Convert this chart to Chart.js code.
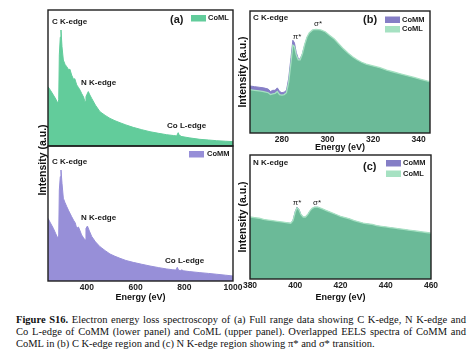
<!DOCTYPE html>
<html><head><meta charset="utf-8">
<script src="https://cdn.jsdelivr.net/npm/chart.js@4.4.1/dist/chart.umd.min.js"></script>
<style>
html,body{margin:0;padding:0;background:#fff;width:474px;height:355px;overflow:hidden;position:relative;}
canvas{position:absolute;}
#ylab{position:absolute;left:-18px;top:154px;width:120px;height:12px;line-height:12px;text-align:center;transform:rotate(-90deg);font:bold 10.5px "Liberation Sans",Arial,sans-serif;color:#111;}
#cap{position:absolute;left:16px;top:314px;width:450px;font:10.5px "Liberation Serif","Times New Roman",serif;color:#111;line-height:12px;}
#cap .j{text-align:justify;text-align-last:justify;white-space:nowrap;}
#cap .j span{letter-spacing:0}
</style>
</head><body>
<canvas id="cA1" width="240" height="150" style="left:0;top:0"></canvas>
<canvas id="cA2" width="250" height="165" style="left:0;top:140px"></canvas>
<canvas id="cB" width="248" height="155" style="left:226px;top:0"></canvas>
<canvas id="cC" width="248" height="155" style="left:226px;top:150px"></canvas>
<div id="ylab">Intensity (a.u.)</div>
<div id="cap">
<div class="j" id="l1"><b>Figure S16.</b> Electron energy loss spectroscopy of (a) Full range data showing C K-edge, N K-edge and</div>
<div class="j" id="l2">Co L-edge of CoMM (lower panel) and CoML (upper panel). Overlapped EELS spectra of CoMM and</div>
<div>CoML in (b) C K-edge region and (c) N K-edge region showing π* and σ* transition.</div>
</div>
<script>
// ---- Panel (a) full range ----
const energyCoML_a = [240,250,262,272,280, 284,286.5,290.5,293.4,297.5, 303,310,317,325,330, 337,345,350,358,365, 372,378,386,392,396, 400,405.6,412,419.5,435, 453.6,475,494.7,515,535.8, 560,590,625,659,695, 727.6,755,768.7,772,775, 779,782,820,864,900, 933,970,1000];
const intensityCoML_a = [0.436,0.41,0.375,0.345,0.314, 0.34,0.67,0.80,0.853,0.73, 0.632,0.60,0.583,0.56,0.565, 0.522,0.49,0.495,0.449,0.43, 0.41,0.387,0.36,0.326,0.363, 0.38,0.40,0.375,0.35,0.30, 0.252,0.225,0.203,0.186,0.171, 0.155,0.137,0.12,0.105,0.093, 0.083,0.077,0.074,0.088,0.098, 0.08,0.072,0.06,0.049,0.044, 0.039,0.035,0.032];
const energyCoMM_a = [240,250,262,272,280, 284,286.5,290.5,293.4,297.5, 303,310,317,325,337, 345,352,358,365,372, 378,386,392,396,402, 410,419.5,435,453.6,475, 494.7,515,535.8,560,590, 625,659,695,727.6,750, 766,771,777,785,790, 795,820,864,900,933, 970,1000];
const intensityCoMM_a = [0.464,0.43,0.39,0.35,0.316, 0.34,0.674,0.773,0.822,0.724, 0.613,0.58,0.551,0.52,0.477, 0.45,0.43,0.39,0.40,0.37, 0.341,0.32,0.304,0.39,0.407, 0.37,0.33,0.29,0.254,0.225, 0.2,0.183,0.168,0.152,0.138, 0.124,0.111,0.099,0.089,0.084, 0.081,0.101,0.079,0.078,0.083, 0.076,0.07,0.062,0.056,0.05, 0.043,0.037];
const ticksA = [400,600,800,1000];

// ---- Panel (b) C K-edge ----
const energyB = [266,268,270,272,274, 275,276,277,278,279, 280,281,282,283,284, 284.8,285.5,286.3,287.2,288, 289,290,291,292,293.5, 295,297,299,301,303, 305,307,309,311,313, 315,317,320,323,326, 329,332,335,338,341, 344,345];
const coMM_B = [0.385,0.38,0.375,0.37,0.36, 0.34,0.35,0.35,0.37,0.34, 0.33,0.335,0.35,0.45,0.62, 0.76,0.74,0.66,0.61,0.605, 0.65,0.72,0.78,0.81,0.835, 0.84,0.835,0.82,0.79,0.76, 0.72,0.68,0.645,0.615,0.59, 0.57,0.555,0.54,0.525,0.505, 0.49,0.475,0.46,0.445,0.43, 0.415,0.41];
const coML_B = [0.355,0.35,0.345,0.34,0.33, 0.315,0.32,0.325,0.34,0.315, 0.31,0.315,0.33,0.42,0.58, 0.72,0.71,0.64,0.60,0.60, 0.65,0.725,0.785,0.82,0.845, 0.85,0.845,0.83,0.80,0.77, 0.73,0.69,0.655,0.625,0.60, 0.58,0.565,0.55,0.535,0.515, 0.50,0.485,0.47,0.455,0.44, 0.425,0.42];
const ticksB = [280,300,320,340];

// ---- Panel (c) N K-edge ----
const energyC = [380,382,384,386,388, 390,392,394,396,398, 399,400,400.8,401.6,402.5, 403.5,404.5,405.5,406.5,407.5, 408.5,410,412,414,416, 418,420,422,424,426, 428,430,432,434,436, 438,440,442,444,446, 448,450,452,454,456, 458,460];
const coML_C = [0.50,0.495,0.49,0.48,0.475, 0.47,0.465,0.46,0.455,0.45, 0.47,0.54,0.575,0.56,0.52, 0.50,0.50,0.52,0.55,0.57, 0.58,0.58,0.565,0.55,0.535, 0.52,0.505,0.495,0.485,0.47, 0.46,0.45,0.445,0.44,0.43, 0.425,0.42,0.415,0.41,0.405, 0.40,0.395,0.39,0.385,0.38, 0.375,0.37];
const coMM_C = [0.48,0.477,0.473,0.468,0.465, 0.462,0.458,0.455,0.452,0.448, 0.472,0.545,0.58,0.562,0.52, 0.498,0.498,0.518,0.548,0.568, 0.578,0.578,0.562,0.548,0.532, 0.518,0.502,0.492,0.482,0.468, 0.458,0.448,0.443,0.437,0.428, 0.422,0.417,0.412,0.407,0.402, 0.397,0.392,0.387,0.382,0.377, 0.372,0.367];
const ticksC = [380,400,420,440,460];

const FAM = '"Liberation Sans", Arial, sans-serif';
const pts = (xs, ys) => xs.map((x, i) => ({x, y: ys[i]}));

// justify caption lines by word spacing (keeps each line on one row)
['l1','l2'].forEach(id => {
  const el = document.getElementById(id);
  el.style.textAlignLast = 'left';
  const w = el.scrollWidth;
  const r = document.createRange(); r.selectNodeContents(el);
  const natural = r.getBoundingClientRect().width;
  const gaps = (el.textContent.match(/ /g) || []).length;
  if (gaps && natural < 450) el.style.wordSpacing = ((450 - natural) / gaps) + 'px';
  else if (natural > 450) el.style.letterSpacing = ((450 - natural) / el.textContent.length) + 'px';
  el.style.textAlign = 'left';
});

const notesPlugin = {
  id: 'notes',
  afterDraw(chart, args, opts) {
    const ctx = chart.ctx, ca = chart.chartArea;
    ctx.save();
    ctx.lineWidth = 1.4; ctx.strokeStyle = '#1e1e1e';
    ctx.strokeRect(ca.left, ca.top, ca.right - ca.left, ca.bottom - ca.top);
    const ox = opts.ox || 0, oy = opts.oy || 0;
    (opts.items || []).forEach(it => {
      if (it.box) { ctx.fillStyle = it.box; ctx.fillRect(it.x - ox, it.y - oy - 3, 15, 6.5); return; }
      ctx.font = it.font || ('bold 8px ' + FAM);
      ctx.fillStyle = '#1a1a1a'; ctx.textAlign = it.align || 'left'; ctx.textBaseline = 'middle';
      ctx.fillText(it.t, it.x - ox, it.y - oy);
    });
    ctx.restore();
  }
};

function xAxis(min, max, ticks, show, h) {
  return {
    type: 'linear', min, max, display: show,
    afterBuildTicks: s => { s.ticks = ticks.map(v => ({value: v})); },
    afterFit: s => { s.height = h; s.paddingLeft = 0; s.paddingRight = 0; },
    grid: {display: false, drawTicks: false}, border: {display: false},
    ticks: {font: {family: FAM, size: 8.5, weight: 'bold'}, color: '#222', padding: 2, maxRotation: 0, autoSkip: false, callback: v => String(v)},
    title: {display: true, text: 'Energy (eV)', font: {family: FAM, size: 9, weight: 'bold'}, color: '#111', padding: {top: 0, bottom: 2}}
  };
}
function yAxis(show) {
  return {
    type: 'linear', min: 0, max: 1, display: show,
    ticks: {display: false}, grid: {display: false, drawTicks: false}, border: {display: false},
    afterFit: s => { s.width = 24; },
    title: {display: show, text: 'Intensity (a.u.)', font: {family: FAM, size: 10.5, weight: 'bold'}, color: '#111', padding: {top: 11, bottom: 0}}
  };
}
function ds(label, data, fill, line, bw) {
  return {label, data, backgroundColor: fill, borderColor: line, borderWidth: bw, fill: 'origin', pointRadius: 0, tension: 0};
}
function make(id, datasets, padding, scales, notes) {
  return new Chart(document.getElementById(id), {
    type: 'line',
    data: {datasets},
    options: {
      responsive: false, animation: false, devicePixelRatio: 1,
      layout: {padding},
      scales,
      plugins: {legend: {display: false}, tooltip: {enabled: false}, notes}
    },
    plugins: [notesPlugin]
  });
}

const GREEN_A = '#62cc9b', PURPLE_A = '#978fd8';
const GREEN = '#6bba98', GREEN_L = '#a6e1c2', PURPLE = '#857ec6';
const bold8 = 'bold 8px ' + FAM, lab = 'bold 11px ' + FAM, leg = 'bold 7.5px ' + FAM, sym = '8px ' + FAM;

make('cA1', [ds('CoML', pts(energyCoML_a, intensityCoML_a), GREEN_A, GREEN_A, 1)],
  {left: 48, top: 10, right: 7, bottom: 4},
  {x: {type: 'linear', min: 240, max: 1000, display: false}, y: {min: 0, max: 1, display: false}},
  {ox: 0, oy: 0, items: [
    {t: 'C K-edge', x: 52, y: 22, font: bold8},
    {t: 'N K-edge', x: 81, y: 83, font: bold8},
    {t: 'Co L-edge', x: 167, y: 126, font: bold8},
    {t: '(a)', x: 170, y: 20, font: lab},
    {box: GREEN_A, x: 191, y: 18},
    {t: 'CoML', x: 208, y: 18, font: leg}
  ]});

make('cA2', [ds('CoMM', pts(energyCoMM_a, intensityCoMM_a), PURPLE_A, PURPLE_A, 1)],
  {left: 48, top: 6, right: 17, bottom: 0},
  {x: xAxis(240, 1000, ticksA, true, 24), y: {min: 0, max: 1, display: false}},
  {ox: 0, oy: 140, items: [
    {t: 'C K-edge', x: 52, y: 162, font: bold8},
    {t: 'N K-edge', x: 81, y: 218, font: bold8},
    {t: 'Co L-edge', x: 165, y: 261, font: bold8},
    {box: PURPLE_A, x: 189, y: 154},
    {t: 'CoMM', x: 207, y: 154, font: leg}
  ]});

make('cB', [ds('CoML', pts(energyB, coML_B), GREEN, GREEN_L, 1.3), ds('CoMM', pts(energyB, coMM_B), PURPLE, PURPLE, 1)],
  {left: 0, top: 11, right: 44, bottom: 0},
  {x: xAxis(266, 345, ticksB, true, 22), y: yAxis(true)},
  {ox: 226, oy: 0, items: [
    {t: 'C K-edge', x: 253, y: 18, font: bold8},
    {t: '(b)', x: 363, y: 20, font: lab},
    {box: PURPLE, x: 385, y: 19.5},
    {t: 'CoMM', x: 402, y: 19.5, font: leg},
    {box: GREEN_L, x: 385, y: 29},
    {t: 'CoML', x: 402, y: 29, font: leg},
    {t: 'π*', x: 297, y: 37, font: sym, align: 'center'},
    {t: 'σ*', x: 318, y: 24, font: sym, align: 'center'}
  ]});

make('cC', [ds('CoML', pts(energyC, coML_C), GREEN, GREEN_L, 1.3), ds('CoMM', pts(energyC, coMM_C), PURPLE, PURPLE, 1)],
  {left: 0, top: 5, right: 43, bottom: 0},
  {x: xAxis(380, 460, ticksC, true, 26), y: yAxis(true)},
  {ox: 226, oy: 150, items: [
    {t: 'N K-edge', x: 253, y: 163, font: bold8},
    {t: '(c)', x: 363, y: 167, font: lab},
    {box: PURPLE, x: 386, y: 163},
    {t: 'CoMM', x: 403, y: 163, font: leg},
    {box: GREEN_L, x: 386, y: 173.5},
    {t: 'CoML', x: 403, y: 173.5, font: leg},
    {t: 'π*', x: 297, y: 203, font: sym, align: 'center'},
    {t: 'σ*', x: 317, y: 203, font: sym, align: 'center'}
  ]});
</script>
</body></html>
